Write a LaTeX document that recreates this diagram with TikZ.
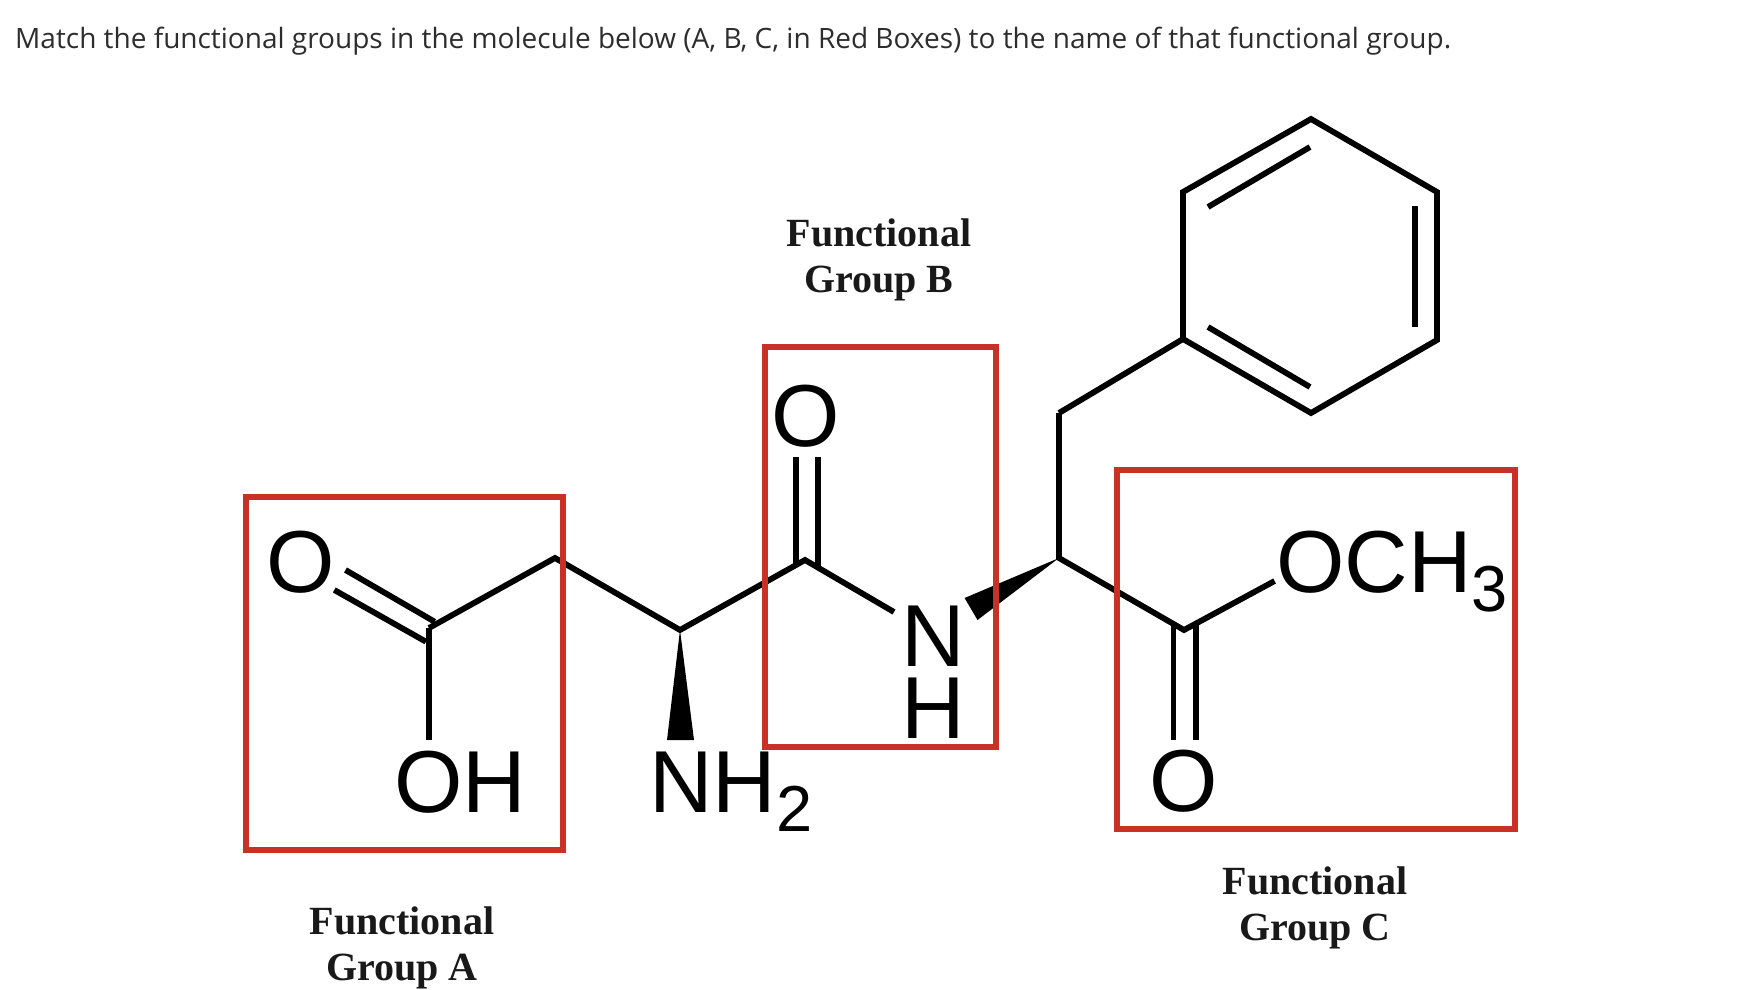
\documentclass[tikz,border=0pt]{standalone}
\usepackage{fontspec}
\setmainfont{Liberation Sans}
\newfontfamily\titlefont{Open Sans}
\newfontfamily\labelfont{Liberation Serif}
\definecolor{boxred}{RGB}{201,48,38}
\definecolor{titlegray}{RGB}{45,45,45}
\newcommand{\atomsize}{\fontsize{88}{88}\selectfont}
\newcommand{\subdigit}[1]{\raisebox{-19pt}{\fontsize{65}{65}\selectfont #1}}
\tikzset{
  x=1pt,y=-1pt,
  bond/.style={line width=5.8pt,black,line join=miter},
  redbox/.style={line width=6pt,draw=boxred,line join=miter},
  atom/.style={inner sep=0pt,outer sep=0pt,anchor=base,font=\atomsize},
  atomleft/.style={inner sep=0pt,outer sep=0pt,anchor=base west,font=\atomsize},
  grouplabel/.style={inner sep=0pt,outer sep=0pt,anchor=base,align=center,
    font=\labelfont\bfseries\fontsize{40}{46}\selectfont,text=black!90},
  wedge/.style={fill=black,draw=none},
}
\begin{document}
\begin{tikzpicture}
\useasboundingbox[fill=white] (0,0) rectangle (1749,990);

% title
\node (title) [inner sep=0pt,anchor=base west,text=titlegray,
  font=\titlefont\fontsize{28}{34}\selectfont] at (15,49)
  {Match the functional groups in the molecule below (A, B, C, in Red Boxes) to the name of that functional group.};

% skeleton vertices
\coordinate (cacid) at (429,628);
\coordinate (ch2a) at (555,558);
\coordinate (calpha) at (680,630);
\coordinate (camide) at (805,560);
\coordinate (cbeta) at (1059,558);
\coordinate (cester) at (1184,630);
\coordinate (ch2b) at (1059,413);
\coordinate (r1) at (1311,119);
\coordinate (r2) at (1437,192);
\coordinate (r3) at (1437,340);
\coordinate (r4) at (1311,413);
\coordinate (r5) at (1183,339);
\coordinate (r6) at (1183,192);

% atom labels
\node (oacid) [atom] at (301,592) {O};
\node (oh) [atomleft] at (394,812) {OH};
\node (nh2) [atomleft] at (649,812) {NH\subdigit{2}};
\node (oamide) [atom] at (806,446) {O};
\node (nn) [atom] at (933,666) {N};
\node (hh) [atom] at (933,738) {H};
\node (oester) [atom] at (1184,811) {O};
\node (och3) [atomleft] at (1276,592) {OCH\subdigit{3}};

% bond end points at the labels
\coordinate (oacidA) at (345.5,570);
\coordinate (cacidA) at (434.6,621.7);
\coordinate (oacidB) at (334.3,590);
\coordinate (cacidB) at (426,641.7);
\coordinate (ohend) at (429,740);
\coordinate (amA) at (796,457);
\coordinate (amAb) at (796,564);
\coordinate (amB) at (818,457);
\coordinate (amBb) at (818,566);
\coordinate (nend) at (894,612);
\coordinate (esA) at (1173.5,625);
\coordinate (esAb) at (1173.5,740);
\coordinate (esB) at (1196,625);
\coordinate (esBb) at (1196,740);
\coordinate (oend) at (1274.6,581);
\coordinate (in1a) at (1208,207);
\coordinate (in1b) at (1310,147);
\coordinate (in2a) at (1414.6,206);
\coordinate (in2b) at (1414.6,327);
\coordinate (in3a) at (1208,327);
\coordinate (in3b) at (1310,387);
\coordinate (wa1) at (667,740);
\coordinate (wa2) at (694,740);
\coordinate (wb1) at (964.6,598);
\coordinate (wb2) at (977.5,620);

% bonds
\draw[bond] (cacid) -- (ch2a) -- (calpha) -- (camide) -- (nend);
\draw[bond] (cacid) -- (ohend);
\draw[bond] (oacidA) -- (cacidA);
\draw[bond] (oacidB) -- (cacidB);
\draw[bond] (amA) -- (amAb);
\draw[bond] (amB) -- (amBb);
\draw[bond] (ch2b) -- (cbeta) -- (cester) -- (oend);
\draw[bond] (esA) -- (esAb);
\draw[bond] (esB) -- (esBb);
\draw[bond] (ch2b) -- (r5);
\draw[bond] (r1) -- (r2) -- (r3) -- (r4) -- (r5) -- (r6) -- cycle;
\draw[bond] (in1a) -- (in1b);
\draw[bond] (in2a) -- (in2b);
\draw[bond] (in3a) -- (in3b);
\fill[wedge] (calpha) -- (wa1) -- (wa2) -- cycle;
\fill[wedge] (cbeta) -- (wb1) -- (wb2) -- cycle;

% red boxes
\draw[redbox] (246,497) rectangle (562.5,849.5);
\draw[redbox] (765,347) rectangle (996,747);
\draw[redbox] (1117,469.5) rectangle (1514.5,829);

% group labels
\node (labA) [grouplabel] at (402,980) {Functional\\Group A};
\node (labB) [grouplabel] at (879,292) {Functional\\Group B};
\node (labC) [grouplabel] at (1315,940) {Functional\\Group C};
\end{tikzpicture}
\end{document}
